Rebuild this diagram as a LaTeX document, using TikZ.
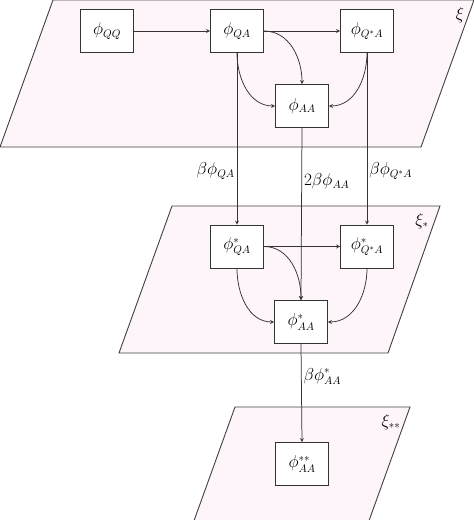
\documentclass[tikz,border=0pt]{standalone}
\begin{document}
\begin{tikzpicture}[x=1pt,y=-1pt,
  every node/.style={font=\fontsize{16}{19}\selectfont},
  box/.style={draw=black!80,line width=0.9pt,fill=white,minimum width=53pt,minimum height=43pt,inner sep=0pt},
  plane/.style={draw=black!75,line width=0.9pt,fill=planefill},
  conn/.style={draw=black!80,line width=0.75pt,->,>=stealth},
  lab/.style={inner sep=2pt}]
\definecolor{planefill}{RGB}{253,245,250}
\useasboundingbox (0,0) rectangle (474,520);
\begin{scope}
\clip (0,0) rectangle (474,520);
% planes
\draw[plane] (53,0) -- (474,0) -- (421,147) -- (0,147) -- cycle;
\draw[plane] (172,206) -- (440,206) -- (388,353) -- (119,353) -- cycle;
\draw[plane] (235,407) -- (410,407) -- (357,554) -- (182,554) -- cycle;
\end{scope}
\node (xi) at (460,15) {$\xi$};
\node (xis) at (422,221) {$\xi_{*}$};
\node (xiss) at (391,422) {$\xi_{**}$};
% nodes
\node[box] (qq) at (107,31) {$\phi_{QQ}$};
\node[box] (qa) at (237,31) {$\phi_{QA}$};
\node[box] (qsa) at (367,31) {$\phi_{Q^{*}A}$};
\node[box] (aa) at (302,106) {$\phi_{AA}$};
\node[box] (sqa) at (237,246.5) {$\phi^{*}_{QA}$};
\node[box] (sqsa) at (367,246.5) {$\phi^{*}_{Q^{*}A}$};
\node[box] (saa) at (301,322) {$\phi^{*}_{AA}$};
\node[box] (ssaa) at (302,464) {$\phi^{**}_{AA}$};
% top plane connectors
\draw[conn] (qq) -- (qa);
\draw[conn] (qa) -- (qsa);
\draw[conn] (qa.east) to[out=0,in=90] (aa.north);
\draw[conn] (qa.south) to[out=-90,in=180] (aa.west);
\draw[conn] (qsa.south) to[out=-90,in=0] (aa.east);
% between planes
\draw[conn] (qa.south) -- node[pos=0.69,left,lab] {$\beta\phi_{QA}$} (sqa.north);
\draw[conn] (aa.south) -- node[pos=0.31,right,lab] {$2\beta\phi_{AA}$} (saa.north);
\draw[conn] (qsa.south) -- node[pos=0.69,right,lab] {$\beta\phi_{Q^{*}A}$} (sqsa.north);
% middle plane
\draw[conn] (sqa) -- (sqsa);
\draw[conn] (sqa.east) to[out=0,in=90] (saa.north);
\draw[conn] (sqa.south) to[out=-90,in=180] (saa.west);
\draw[conn] (sqsa.south) to[out=-90,in=0] (saa.east);
\draw[conn] (saa.south) -- node[pos=0.33,right,lab] {$\beta\phi^{*}_{AA}$} (ssaa.north);
\end{tikzpicture}
\end{document}
